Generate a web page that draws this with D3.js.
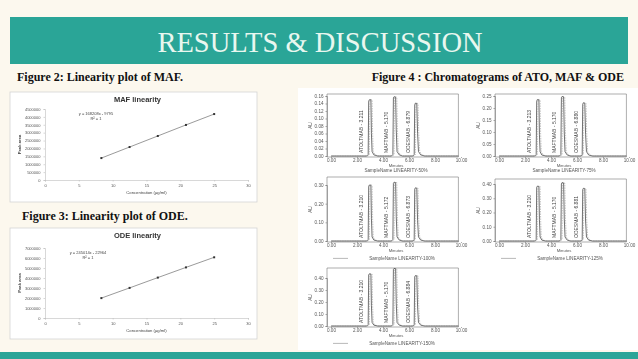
<!DOCTYPE html>
<html>
<head>
<meta charset="utf-8">
<script src="https://cdn.jsdelivr.net/npm/d3@7"></script>
<style>
  html, body { margin: 0; padding: 0; background: #fcf8ee; }
  svg { display: block; }
</style>
</head>
<body>
<div id="slide"></div>
<script>
// slide texts
const slideTitle = "RESULTS & DISCUSSION";
const fig2Caption = "Figure 2: Linearity plot of MAF.";
const fig3Caption = "Figure 3: Linearity plot of ODE.";
const fig4Caption = "Figure 4 : Chromatograms of ATO, MAF & ODE";

// linearity data (conc in ug/ml, peak area)
const concentration = [8.33, 12.5, 16.67, 20.83, 25];
const mafArea = [1390000, 2090000, 2790000, 3490000, 4180000];
const odeArea = [1990000, 3010000, 4040000, 5060000, 6070000];
const concTicks = [0, 5, 10, 15, 20, 25, 30];
const mafTicks = [0, 500000, 1000000, 1500000, 2000000, 2500000, 3000000, 3500000, 4000000, 4500000];
const odeTicks = [0, 1000000, 2000000, 3000000, 4000000, 5000000, 6000000, 7000000];
const mafEquation = ["y = 168208x - 9795", "R² = 1"];
const odeEquation = ["y = 245014x - 22964", "R² = 1"];

// chromatogram traces [minutes, AU]
const trace50 = [[0,0],[2.75,0],[2.86,0.004],[2.9,0.146],[2.95,0.15],[3.07,0.15],[3.11,0.06],[3.16,0.012],[3.3,0.003],[3.6,0],
  [4.65,0],[4.76,0.004],[4.8,0.155],[4.85,0.158],[4.97,0.157],[5.02,0.07],[5.08,0.012],[5.25,0.003],[5.5,0],
  [6.3,0],[6.4,0.004],[6.44,0.136],[6.49,0.141],[6.6,0.14],[6.66,0.06],[6.73,0.012],[6.9,0.003],[7.2,0],[10,0]];
const trace75 = [[0,0],[2.75,0],[2.86,0.006],[2.9,0.228],[2.95,0.235],[3.07,0.234],[3.11,0.09],[3.16,0.018],[3.3,0.004],[3.6,0],
  [4.65,0],[4.76,0.006],[4.8,0.243],[4.85,0.248],[4.97,0.246],[5.02,0.1],[5.08,0.018],[5.25,0.004],[5.5,0],
  [6.3,0],[6.4,0.006],[6.44,0.215],[6.49,0.222],[6.6,0.22],[6.66,0.09],[6.73,0.018],[6.9,0.004],[7.2,0],[10,0]];
const trace100 = [[0,0],[2.75,0],[2.86,0.008],[2.9,0.292],[2.95,0.3],[3.07,0.299],[3.11,0.12],[3.16,0.022],[3.3,0.005],[3.6,0],
  [4.65,0],[4.76,0.008],[4.8,0.308],[4.85,0.315],[4.97,0.313],[5.02,0.13],[5.08,0.022],[5.25,0.005],[5.5,0],
  [6.3,0],[6.4,0.008],[6.44,0.277],[6.49,0.285],[6.6,0.283],[6.66,0.11],[6.73,0.022],[6.9,0.005],[7.2,0],[10,0]];
const trace125 = [[0,0],[2.75,0],[2.86,0.01],[2.9,0.376],[2.95,0.385],[3.07,0.383],[3.11,0.15],[3.16,0.028],[3.3,0.006],[3.6,0],
  [4.65,0],[4.76,0.01],[4.8,0.4],[4.85,0.41],[4.97,0.407],[5.02,0.16],[5.08,0.028],[5.25,0.006],[5.5,0],
  [6.3,0],[6.4,0.01],[6.44,0.36],[6.49,0.37],[6.6,0.367],[6.66,0.14],[6.73,0.028],[6.9,0.006],[7.2,0],[10,0]];
const trace150 = [[0,0],[2.75,0],[2.86,0.012],[2.9,0.425],[2.95,0.435],[3.07,0.433],[3.11,0.17],[3.16,0.03],[3.3,0.007],[3.6,0],
  [4.65,0],[4.76,0.012],[4.8,0.47],[4.85,0.48],[4.97,0.478],[5.02,0.19],[5.08,0.03],[5.25,0.007],[5.5,0],
  [6.3,0],[6.4,0.012],[6.44,0.41],[6.49,0.42],[6.6,0.418],[6.66,0.16],[6.73,0.03],[6.9,0.007],[7.2,0],[10,0]];

const minuteTicks = [0, 2, 4, 6, 8, 10];
const auTicks50 = [0, 0.02, 0.04, 0.06, 0.08, 0.10, 0.12, 0.14, 0.16];
const auTicks75 = [0, 0.05, 0.10, 0.15, 0.20, 0.25];
const auTicks100 = [0, 0.10, 0.20, 0.30];
const auTicks125 = [0, 0.10, 0.20, 0.30, 0.40];
const auTicks150 = [0, 0.10, 0.20, 0.30, 0.40];

const peakTimes = [2.45, 4.35, 6.05];
const peakNames50 = ["ATOLTMAB - 3.211", "MAFTMAB - 5.170", "ODESMAB - 6.879"];
const peakNames75 = ["ATOLTMAB - 3.213", "MAFTMAB - 5.170", "ODESMAB - 6.880"];
const peakNames100 = ["ATOLTMAB - 3.210", "MAFTMAB - 5.172", "ODESMAB - 6.873"];
const peakNames125 = ["ATOLTMAB - 3.210", "MAFTMAB - 5.170", "ODESMAB - 6.881"];
const peakNames150 = ["ATOLTMAB - 3.210", "MAFTMAB - 5.170", "ODESMAB - 6.884"];

const W = 638, H = 359;
const teal = "#2aa597";
const serif = "'Liberation Serif', 'Times New Roman', serif";
const sans = "'Liberation Sans', Arial, sans-serif";

const svg = d3.select("#slide").append("svg").attr("width", W).attr("height", H);
svg.append("rect").attr("width", W).attr("height", H).attr("fill", "#fcf8ee");

const defs = svg.append("defs");
defs.append("filter").attr("id", "soft")
  .append("feGaussianBlur").attr("stdDeviation", 0.3);

// title band
svg.append("rect").attr("x", 10).attr("y", 17).attr("width", 618).attr("height", 47).attr("fill", teal);
svg.append("text").attr("x", 320).attr("y", 51.5).attr("text-anchor", "middle")
  .attr("font-family", serif).attr("font-size", 28.5).attr("fill", "#e9f7ef").text(slideTitle);
svg.append("rect").attr("x", 0).attr("y", 352).attr("width", W).attr("height", 7).attr("fill", teal);

// figure captions
const cap = (x, y, t, anchor) => svg.append("text").attr("x", x).attr("y", y)
  .attr("text-anchor", anchor).attr("font-family", serif).attr("font-weight", "bold")
  .attr("font-size", 12).attr("fill", "#111").text(t);
cap(17, 81, fig2Caption, "start");
cap(22, 220, fig3Caption, "start");
cap(624, 81, fig4Caption, "end");

// ---- linearity charts ----
function linearity(box, title, areas, ticks, eq, plot) {
  const g = svg.append("g").attr("filter", "url(#soft)");
  g.append("rect").attr("x", box.x).attr("y", box.y).attr("width", box.w).attr("height", box.h)
    .attr("fill", "#fff").attr("stroke", "#d4d4d4").attr("stroke-width", 0.8);

  const x = d3.scaleLinear().domain([0, 30]).range([plot.left, plot.right]);
  const y = d3.scaleLinear().domain([0, d3.max(ticks)]).range([plot.bottom, plot.top]);

  g.append("text").attr("x", (box.x + box.x + box.w) / 2 + 4).attr("y", box.y + 10)
    .attr("text-anchor", "middle").attr("font-family", sans).attr("font-weight", "bold")
    .attr("font-size", 7.5).attr("fill", "#333").text(title);

  const xAxis = g.append("g").attr("transform", `translate(0,${plot.bottom})`)
    .call(d3.axisBottom(x).tickValues(concTicks).tickSize(1.5).tickPadding(3));
  const yAxis = g.append("g").attr("transform", `translate(${plot.left},0)`)
    .call(d3.axisLeft(y).tickValues(ticks).tickSize(1.5).tickPadding(3).tickFormat(d3.format("d")));
  [xAxis, yAxis].forEach(a => {
    a.selectAll("path,line").attr("stroke", "#bdbdbd").attr("stroke-width", 0.6);
    a.selectAll("text").attr("font-family", sans).attr("font-size", 4).attr("fill", "#555");
  });

  g.append("text").attr("x", (plot.left + plot.right) / 2).attr("y", plot.bottom + 14)
    .attr("text-anchor", "middle").attr("font-family", sans).attr("font-size", 4.2)
    .attr("fill", "#444").text("Concentration (µg/ml)");
  g.append("text").attr("transform", `translate(${box.x + 11},${(plot.top + plot.bottom) / 2}) rotate(-90)`)
    .attr("text-anchor", "middle").attr("font-family", sans).attr("font-weight", "bold")
    .attr("font-size", 4.2).attr("fill", "#444").text("Peak area");

  const pts = concentration.map((c, i) => [c, areas[i]]);
  g.append("path").attr("d", d3.line().x(d => x(d[0])).y(d => y(d[1]))(pts))
    .attr("fill", "none").attr("stroke", "#555").attr("stroke-width", 0.6);
  g.selectAll(null).data(pts).enter().append("rect")
    .attr("x", d => x(d[0]) - 1).attr("y", d => y(d[1]) - 1)
    .attr("width", 2).attr("height", 2).attr("fill", "#333");

  eq.forEach((t, i) => g.append("text").attr("x", plot.eqX).attr("y", plot.eqY + i * 4.5)
    .attr("text-anchor", "middle").attr("font-family", sans).attr("font-size", 4)
    .attr("fill", "#444").text(t));
}

linearity({ x: 10, y: 92, w: 247, h: 110 }, "MAF linearity", mafArea, mafTicks, mafEquation,
  { left: 45, right: 248, top: 109, bottom: 180, eqX: 96, eqY: 115 });
linearity({ x: 10, y: 228, w: 247, h: 111 }, "ODE linearity", odeArea, odeTicks, odeEquation,
  { left: 45, right: 248, top: 248, bottom: 318, eqX: 88, eqY: 254 });

// ---- chromatograms ----
svg.append("rect").attr("x", 298).attr("y", 88).attr("width", 340).attr("height", 262).attr("fill", "#fff");

const panels = [
  { trace: trace50, ticks: auTicks50, names: peakNames50, caption: "SampleName LINEARITY-50%", line: false,
    col: 0, zero: 156, top: 96, boxTop: 94, boxBottom: 157 },
  { trace: trace75, ticks: auTicks75, names: peakNames75, caption: "SampleName LINEARITY-75%", line: false,
    col: 1, zero: 156, top: 96, boxTop: 94, boxBottom: 157 },
  { trace: trace100, ticks: auTicks100, names: peakNames100, caption: "SampleName LINEARITY-100%", line: true,
    col: 0, zero: 241, top: 185, boxTop: 177, boxBottom: 242 },
  { trace: trace125, ticks: auTicks125, names: peakNames125, caption: "SampleName LINEARITY-125%", line: true,
    col: 1, zero: 241, top: 184, boxTop: 179, boxBottom: 242 },
  { trace: trace150, ticks: auTicks150, names: peakNames150, caption: "SampleName LINEARITY-150%", line: true,
    col: 0, zero: 326, top: 278, boxTop: 268, boxBottom: 327 },
];

panels.forEach((p, k) => {
  const g = svg.append("g").attr("filter", "url(#soft)");
  const x0 = p.col === 0 ? 331 : 499;
  const x = d3.scaleLinear().domain([0, 10]).range([x0, x0 + 130]);
  const y = d3.scaleLinear().domain([0, d3.max(p.ticks)]).range([p.zero, p.top]);
  const left = x0 - 4, right = x(9.8);

  defs.append("clipPath").attr("id", "clip" + k).append("rect")
    .attr("x", left).attr("y", p.boxTop).attr("width", right - left).attr("height", p.boxBottom - p.boxTop);

  g.append("path").attr("d", `M${left},${p.boxBottom}V${p.boxTop}H${right}V${p.boxBottom}`)
    .attr("fill", "none").attr("stroke", "#777").attr("stroke-width", 0.6);

  const yAxis = g.append("g").attr("transform", `translate(${left},0)`)
    .call(d3.axisLeft(y).tickValues(p.ticks).tickSize(1.5).tickPadding(2).tickFormat(d3.format(".2f")));
  const xAxis = g.append("g").attr("transform", `translate(0,${p.boxBottom})`)
    .call(d3.axisBottom(x).tickValues(minuteTicks).tickSize(1).tickPadding(0.5).tickFormat(d3.format(".2f")));
  xAxis.select(".domain").attr("d", `M${left},0H${right}`);
  [xAxis, yAxis].forEach(a => {
    a.selectAll("path,line").attr("stroke", "#777").attr("stroke-width", 0.6);
    a.selectAll("text").attr("font-family", sans).attr("font-size", 4.6).attr("fill", "#555");
  });

  g.append("text").attr("transform", `translate(${left - 15},${(p.boxTop + p.boxBottom) / 2}) rotate(-90)`)
    .attr("text-anchor", "middle").attr("font-family", sans).attr("font-size", 4.8).attr("fill", "#555").text("AU");
  g.append("text").attr("x", x(5)).attr("y", p.boxBottom + 10).attr("text-anchor", "middle")
    .attr("font-family", sans).attr("font-size", 4.2).attr("fill", "#555").text("Minutes");

  const capY = p.boxBottom + (p.line ? 18 : 14.5);
  const capX = x(5) + (p.line ? 6 : 0);
  g.append("text").attr("x", capX).attr("y", capY).attr("text-anchor", "middle")
    .attr("font-family", sans).attr("font-size", 4.6).attr("fill", "#555").text(p.caption);
  if (p.line) {
    g.append("line").attr("x1", x0 + 2).attr("x2", x0 + 17).attr("y1", capY - 1.6).attr("y2", capY - 1.6)
      .attr("stroke", "#888").attr("stroke-width", 0.6);
  }

  const line = d3.line().x(d => x(d[0])).y(d => y(d[1]));
  const tg = g.append("g").attr("clip-path", `url(#clip${k})`);
  tg.append("path").attr("d", line(p.trace)).attr("fill", "none").attr("stroke", "#333").attr("stroke-width", 0.7);
  tg.append("path").attr("d", line(p.trace)).attr("transform", "translate(1.2,0)")
    .attr("fill", "none").attr("stroke", "#888").attr("stroke-width", 0.5).attr("stroke-dasharray", "1.5,1");

  p.names.forEach((n, i) => {
    g.append("text")
      .attr("transform", `translate(${x(peakTimes[i])},${y(0) - 3}) rotate(-90)`)
      .attr("font-family", sans).attr("font-size", 5).attr("fill", "#444").text(n);
  });
});
</script>
</body>
</html>
